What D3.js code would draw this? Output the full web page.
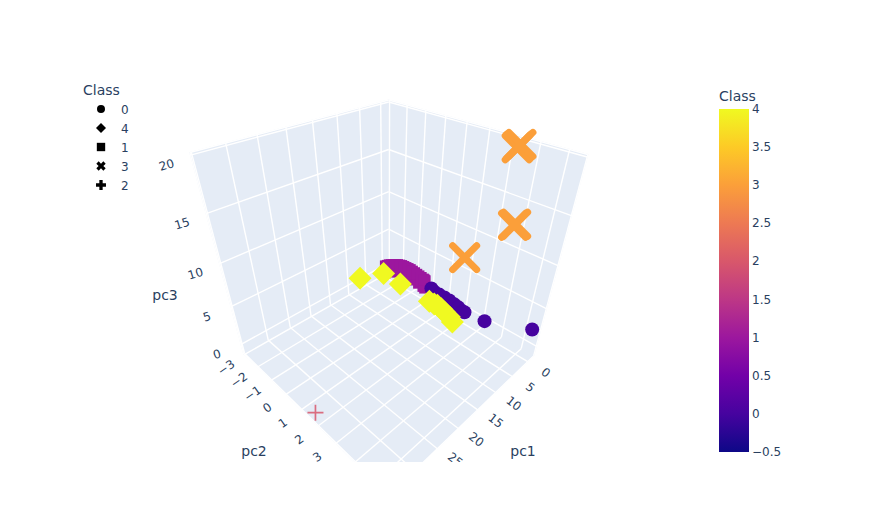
<!DOCTYPE html>
<html><head><meta charset="utf-8"><script src="https://cdn.jsdelivr.net/npm/d3@7"></script>
<style>body{margin:0;background:#fff}text{font-family:"DejaVu Sans";fill:#2a3f5f}</style></head><body>
<svg id="c" width="893" height="512" style="display:block"></svg>
<script>
// data
const pc2Class1=[-2.58,-2.30,-2.02,-1.74,-1.46,-1.18,-0.90,-0.62,-0.34,-0.06,0.05, -2.58,-2.30,-2.02,-1.74,-1.46,-1.18,-0.90,-0.62,-0.34,-0.06,0.05, -2.44,-2.16,-1.88,-1.60,-1.32,-1.04,-0.76,-0.48,-0.20,0.0, -2.44,-2.16,-1.88,-1.60,-1.32,-1.04,-0.76,-0.48,-0.20,0.0];
const pc3Class1=[0.92,1.42,1.77,2.12,2.32,2.37,2.42,2.32,2.22,2.12,2.02, -0.13,0.37,0.72,1.07,1.27,1.32,1.37,1.27,1.17,1.07,0.97, 0.7,1.05,1.4,1.7,1.85,1.9,1.9,1.8,1.7,1.55, 1.17,1.6,1.95,2.22,2.35,2.4,2.37,2.27,2.17,2.07];
const pc1Class1=pc2Class1.map(()=>1);
const pc2Class0=[0.45,0.63,0.93,1.23,1.52,1.81,2.04,2.28,2.39,3.44,5.54];
const pc3Class0=[1.45,1.23,1.22,1.21,1.20,1.06,0.97,0.75,0.78,1.12,3.32];
const pc1Class0=pc2Class0.map(()=>1);
const pc1Class4=[7,4.6,5,5,5,5,5,5,5,5];
const pc2Class4=[-2.95,-1.85,-0.65,1.12,1.4,1.58,1.8,1.99,2.27,2.45];
const pc3Class4=[0.3,1.7,1.85,1.81,1.85,1.93,1.75,1.56,1.31,0.89];
const pc1Class3=[1,1,1,1,1,1];
const pc2Class3=[3.57,3.61,3.68,3.95,4.02,2.06];
const pc3Class3=[19.85,20.0,20.2,13.13,13.31,7.53];
const pc1Class2=[33.9];
const pc2Class2=[1.5];
const pc3Class2=[-1.3];
const classOrder=[1,0,4,3,2];
const legendOrder=[0,4,1,3,2];
const pc1Ticks=[0,5,10,15,20,25,30,35];
const pc2Ticks=[-3,-2,-1,0,1,2,3,4,5];
const pc3Ticks=[0,5,10,15,20];
const colorTicks=[-0.5,0,0.5,1,1.5,2,2.5,3,3.5,4];
const plasma=["#0d0887","#46039f","#7201a8","#9c179e","#bd3786","#d8576b","#ed7953","#fb9f3a","#fdca26","#f0f921"];
const seriesData={0:[pc1Class0,pc2Class0,pc3Class0],1:[pc1Class1,pc2Class1,pc3Class1],2:[pc1Class2,pc2Class2,pc3Class2],3:[pc1Class3,pc2Class3,pc3Class3],4:[pc1Class4,pc2Class4,pc3Class4]};

const R={x:[-2,35.2],y:[-3.05,5.6],z:[-1.4,20.2]};
const corr=[[0,0,1,390,100],[1,0,0,243,353],[1,0,1,189,154],[0,1,0,533,357],[0,1,1,587,153],[1,1,0,390,496]];
function solve(A,b){const n=b.length;const M=A.map((r,i)=>[...r,b[i]]);for(let i=0;i<n;i++){let p=i;for(let k=i+1;k<n;k++)if(Math.abs(M[k][i])>Math.abs(M[p][i]))p=k;[M[i],M[p]]=[M[p],M[i]];for(let k=0;k<n;k++)if(k!=i){const f=M[k][i]/M[i][i];for(let j=i;j<=n;j++)M[k][j]-=f*M[i][j];}}return M.map((r,i)=>r[n]/r[i]);}
const rows=[],rhs=[];
corr.forEach(([a,b,c,u,v])=>{rows.push([a,b,c,1,0,0,0,0,-u*a,-u*b,-u*c]);rhs.push(u);rows.push([0,0,0,0,a,b,c,1,-v*a,-v*b,-v*c]);rhs.push(v);});
const AtA=d3.range(11).map(i=>d3.range(11).map(j=>d3.sum(rows,r=>r[i]*r[j])));
const Atb=d3.range(11).map(i=>d3.sum(rows,(r,k)=>r[i]*rhs[k]));
const h=solve(AtA,Atb);h.push(1);
const sx=d3.scaleLinear().domain(R.x).range([0,1]),sy=d3.scaleLinear().domain(R.y).range([0,1]),sz=d3.scaleLinear().domain(R.z).range([0,1]);
function P(x,y,z){const a=sx(x),b=sy(y),c=sz(z),w=h[8]*a+h[9]*b+h[10]*c+h[11];return [(h[0]*a+h[1]*b+h[2]*c+h[3])/w,(h[4]*a+h[5]*b+h[6]*c+h[7])/w];}

const color=d3.scaleLinear().domain(d3.range(10).map(i=>-0.5+i*0.5)).range(plasma);
const svg=d3.select('#c');
const defs=svg.append('defs');
defs.append('clipPath').attr('id','scene').append('rect').attr('x',0).attr('y',0).attr('width',893).attr('height',462);
const grad=defs.append('linearGradient').attr('id','cb').attr('x1',0).attr('x2',0).attr('y1',1).attr('y2',0);
plasma.forEach((c,i)=>grad.append('stop').attr('offset',i/9).attr('stop-color',c));
const g=svg.append('g').attr('clip-path','url(#scene)');
const poly=(pts)=>g.append('path').attr('d','M'+pts.map(p=>P(...p).join(',')).join('L')+'Z').attr('fill','#E5ECF6').attr('stroke','#E5ECF6');
const [x0,x1]=R.x,[y0,y1]=R.y,[z0,z1]=R.z;
poly([[x0,y0,z0],[x1,y0,z0],[x1,y1,z0],[x0,y1,z0]]);
poly([[x0,y0,z0],[x1,y0,z0],[x1,y0,z1],[x0,y0,z1]]);
poly([[x0,y0,z0],[x0,y1,z0],[x0,y1,z1],[x0,y0,z1]]);
const L=(a,b)=>g.append('path').attr('d','M'+P(...a)+'L'+P(...b)).attr('stroke','#fff').attr('stroke-width',1.4).attr('fill','none');
pc1Ticks.forEach(x=>{L([x,y0,z0],[x,y1,z0]);L([x,y0,z0],[x,y0,z1]);});
pc2Ticks.forEach(y=>{L([x0,y,z0],[x1,y,z0]);L([x0,y,z0],[x0,y,z1]);});
pc3Ticks.forEach(z=>{L([x0,y0,z],[x1,y0,z]);L([x0,y0,z],[x0,y1,z]);});
L([x0,y0,z1],[x1,y0,z1]);L([x0,y0,z1],[x0,y1,z1]);L([x1,y0,z0],[x1,y1,z0]);L([x0,y1,z0],[x1,y1,z0]);L([x1,y0,z0],[x1,y0,z1]);L([x0,y1,z0],[x0,y1,z1]);

const fmt=v=>String(v).replace('-','\u2212');
function tick(pos,txt,rot){if(pos[1]>468)return;g.append('text').attr('transform',`translate(${pos[0]},${pos[1]}) rotate(${rot})`).attr('text-anchor','middle').attr('dominant-baseline','central').attr('font-size',12).text(fmt(txt));}
pc1Ticks.forEach(t=>{const p=P(t,y1,z0);tick([p[0]+18,p[1]+11],t,38);});
pc2Ticks.forEach(t=>{const p=P(x1,t,z0);tick([p[0]-18,p[1]+13],t,-35);});
pc3Ticks.forEach(t=>{const p=P(x1,y0,t);tick([p[0]-24,p[1]+10],t,-17);});

const markerSize={0:7,1:5.5,2:8,3:12,4:11.5};
const markers=g.append('g');
function drawMark(sel,cls,p,s,col){
  const t=`translate(${p[0]},${p[1]})`;
  if(cls===0) sel.append('circle').attr('cx',p[0]).attr('cy',p[1]).attr('r',s).attr('fill',col);
  if(cls===1) sel.append('path').attr('transform',t).attr('d',d3.symbol(d3.symbolSquare,4*s*s)()).attr('fill',col);
  if(cls===4) sel.append('path').attr('transform',t+' rotate(45)').attr('d',d3.symbol(d3.symbolSquare,2*s*s)()).attr('fill',col);
  if(cls===3) sel.append('path').attr('transform',t).attr('d',`M${-s},${-s}L${s},${s}M${-s},${s}L${s},${-s}`).attr('stroke',col).attr('stroke-width',7).attr('stroke-linecap','round').attr('fill','none');
  if(cls===2) sel.append('path').attr('transform',t).attr('d',`M${-s},0L${s},0M0,${-s}L0,${s}`).attr('stroke',col).attr('stroke-width',1.7).attr('opacity',.85).attr('fill','none');
}
classOrder.forEach(c=>{const [a,b,d]=seriesData[c];a.forEach((_,i)=>drawMark(markers,c,P(a[i],b[i],d[i]),markerSize[c],color(c)));});

const T=(x,y,s,size,anchor)=>svg.append('text').attr('x',x).attr('y',y).attr('font-size',size).attr('text-anchor',anchor||'start').attr('dominant-baseline','central').text(s);
T(523,451,'pc1',14,'middle');T(254,451,'pc2',14,'middle');T(165,295,'pc3',14,'middle');
// legend
T(83,90,'Class',14);
const ly=d3.scalePoint().domain(legendOrder).range([109,185]);
legendOrder.forEach(c=>{
  const y=ly(c),t=`translate(101,${y})`,G=svg.append('g').attr('transform',t);
  const area={0:50,4:50,1:70,3:55,2:55}[c];
  const sym={0:d3.symbolCircle,4:d3.symbolSquare,1:d3.symbolSquare,3:d3.symbolCross,2:d3.symbolCross}[c];
  G.append('path').attr('transform',(c===4||c===3)?'rotate(45)':null).attr('d',d3.symbol(sym,area)()).attr('fill','#000');
  T(121,y+0.5,c,12);
});
// colorbar
svg.append('rect').attr('x',719).attr('y',109).attr('width',30).attr('height',343).attr('fill','url(#cb)');
const cy=d3.scaleLinear().domain([-0.5,4]).range([452,109]);
colorTicks.forEach(v=>T(752,cy(v),fmt(v),12));
T(719,96,'Class',14);
</script></body></html>
